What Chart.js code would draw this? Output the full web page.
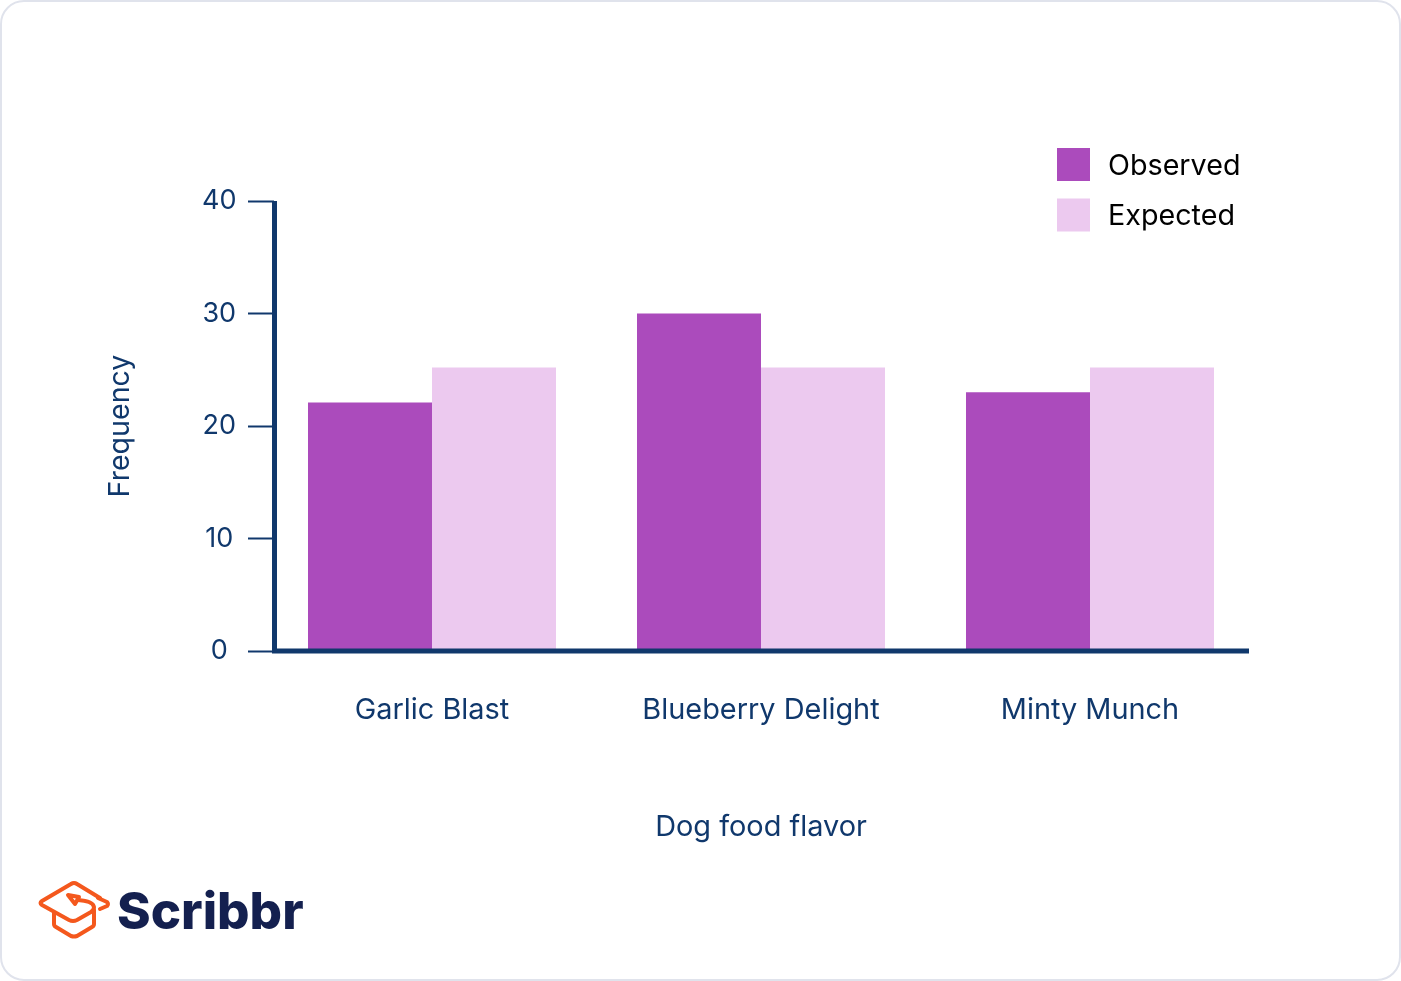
<!DOCTYPE html>
<html><head><meta charset="utf-8">
<style>
html,body{margin:0;padding:0;background:#fff;width:1401px;height:981px;overflow:hidden}
#frame{position:absolute;left:0;top:0;width:1397px;height:977px;border:2px solid #e0e3ec;border-radius:24px;background:#fff}
#wrap{position:absolute;left:0;top:0;width:1401px;height:981px}
#logo{position:absolute;left:38px;top:880px}
#brand{position:absolute;left:117px;top:878px;font:800 51px/66px Inter,sans-serif;color:#14204f;letter-spacing:0}
</style>
<script src="https://cdn.jsdelivr.net/npm/chart.js@4"></script>
</head><body>
<div id="frame"></div>
<div id="wrap"><canvas id="c" width="1401" height="981"></canvas></div>
<svg id="logo" width="74" height="62" viewBox="0 0 74 62" fill="none" stroke="#f4581d" stroke-width="4" stroke-linecap="round" stroke-linejoin="round">
<path d="M60 18 L69 22 Q71 24 69 26 L62 29"/>
<path d="M62 18 L39 4 Q36 2 33 4 L4 21 Q1 23 4 25 L31 40 Q35 42 39 40 L53 32 Q56 30 56 27 Q55 21 40 20"/>
<path d="M30 15 L41 17 L37 24 Z"/>
<path d="M16 33 V44 Q16 46 18 47 L33 56 Q36 57 39 56 L54 47 Q56 46 56 44 V30"/>
</svg>
<div id="brand">Scribbr</div>
<script>
const categories = ["Garlic Blast", "Blueberry Delight", "Minty Munch"];
const observedValues = [22.1, 30, 23];
const expectedValues = [25.2, 25.2, 25.2];
const yTicks = [0, 10, 20, 30, 40];
const seriesNames = ["Observed", "Expected"];
const seriesColors = ["#ab4bbc", "#ecc9ef"];
const axisColor = "#10386c";
const fontFamily = "Inter, sans-serif";

const axesAndLegend = {
  id: "axesAndLegend",
  afterDatasetsDraw(chart) {
    const {ctx, scales: {y}} = chart;
    ctx.save();
    ctx.strokeStyle = axisColor;
    ctx.lineWidth = 2;
    yTicks.forEach(v => {
      const p = Math.round(y.getPixelForValue(v) - 0.5) + 0.5;
      ctx.beginPath(); ctx.moveTo(248, p); ctx.lineTo(274, p); ctx.stroke();
    });
    ctx.lineWidth = 5;
    ctx.lineCap = "butt";
    ctx.beginPath();
    ctx.moveTo(274.5, y.getPixelForValue(40));
    ctx.lineTo(274.5, y.getPixelForValue(0) + 2.5);
    ctx.moveTo(272, y.getPixelForValue(0));
    ctx.lineTo(1249, y.getPixelForValue(0));
    ctx.stroke();
    ctx.font = "400 28.7px " + fontFamily;
    ctx.textBaseline = "middle";
    seriesNames.forEach((n, i) => {
      const yy = 148 + i * 50.5;
      ctx.fillStyle = seriesColors[i];
      ctx.fillRect(1057, yy, 33, 33);
      ctx.fillStyle = "#000";
      ctx.fillText(n, 1108, yy + 18);
    });
    ctx.restore();
  }
};

new Chart(document.getElementById("c"), {
  type: "bar",
  data: {
    labels: categories,
    datasets: [
      {label: seriesNames[0], data: observedValues, backgroundColor: seriesColors[0], categoryPercentage: 0.7538, barPercentage: 1},
      {label: seriesNames[1], data: expectedValues, backgroundColor: seriesColors[1], categoryPercentage: 0.7538, barPercentage: 1}
    ]
  },
  plugins: [axesAndLegend],
  options: {
    responsive: false,
    animation: false,
    devicePixelRatio: 1,
    layout: {padding: {top: 201, left: 103, right: 146.5, bottom: 130}},
    plugins: {legend: {display: false}, tooltip: {enabled: false}},
    scales: {
      x: {
        grid: {display: false, drawTicks: false},
        border: {display: false},
        ticks: {color: axisColor, padding: 42, font: {family: fontFamily, size: 28.9, weight: 400}, maxRotation: 0},
        title: {display: true, text: "Dog food flavor", color: axisColor, font: {family: fontFamily, size: 28.9, weight: 400}, padding: {top: 0, bottom: 6}},
        afterFit(s) { s.height = 200; }
      },
      y: {
        min: 0, max: 40,
        grid: {display: false, drawTicks: false},
        border: {display: false},
        afterBuildTicks(s) { s.ticks = yTicks.map(v => ({value: v})); },
        ticks: {color: axisColor, padding: 31, crossAlign: "center", font: {family: fontFamily, size: 27, weight: 400}},
        title: {display: true, text: "Frequency", color: axisColor, font: {family: fontFamily, size: 28.6, weight: 400}, padding: {top: 0, bottom: 0}},
        afterFit(s) { s.width = 164.5; }
      }
    }
  }
});
</script>
</body></html>
